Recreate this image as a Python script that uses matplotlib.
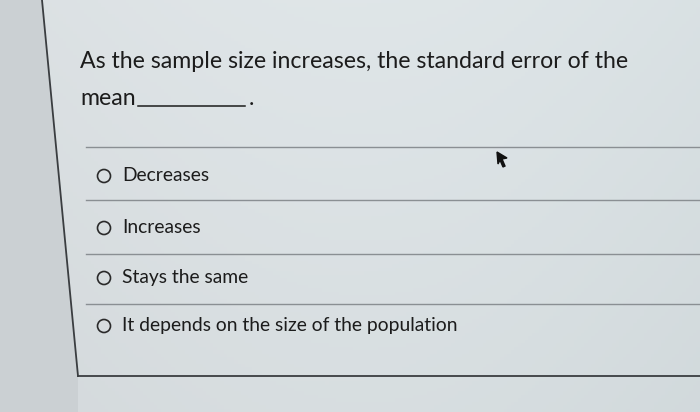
import matplotlib
matplotlib.use('Agg')
import matplotlib.pyplot as plt
import numpy as np
from matplotlib.patches import Polygon, Circle

plt.rcParams['font.family'] = ['Lato', 'DejaVu Sans']

question_lines = ['As the sample size increases, the standard error of the',
                  'mean']
options = ['Decreases', 'Increases', 'Stays the same',
           'It depends on the size of the population']
option_y = [176, 228, 278, 326]
divider_y = [147, 200, 254, 304]

fig = plt.figure(figsize=(7, 4.12), dpi=100)
ax = fig.add_axes([0, 0, 1, 1])
ax.set_xlim(0, 700)
ax.set_ylim(412, 0)
ax.axis('off')

# screen background with soft gradient
xx = np.linspace(0, 1, 200)
yy = np.linspace(0, 1, 120)
X, Y = np.meshgrid(xx, yy)
base = np.array([0.86, 0.88, 0.89])
shade = (0.02 * np.sin(X * 3.0) - 0.03 * Y)[..., None]
img = np.clip(base + shade + np.array([-0.01, 0.0, 0.0]) * X[..., None], 0, 1)
ax.imshow(img, extent=[0, 700, 412, 0], aspect='auto', zorder=0)

# darker strip left of panel edge
ax.add_patch(Polygon([[0, 0], [42, 0], [78, 376], [78, 412], [0, 412]],
                     closed=True, color='#cbd0d3', zorder=1, lw=0))
# panel edge and bottom
ax.plot([42, 78], [0, 376], color='#3a3d40', lw=1.3, zorder=3)
ax.plot([78, 700], [376, 376], color='#3a3d40', lw=1.3, zorder=3)

for y in divider_y:
    ax.plot([86, 700], [y, y], color='#8a8f93', lw=1.0, zorder=2)

ax.text(80, 61, question_lines[0], fontsize=16.7, color='#1c1c1c',
        va='center', ha='left', zorder=4)
ax.text(80, 98, question_lines[1], fontsize=16.7, color='#1c1c1c',
        va='center', ha='left', zorder=4)
# answer blank
ax.plot([138, 245], [106, 106], color='#1c1c1c', lw=1.1, zorder=4)
ax.text(249, 98, '.', fontsize=16.7, color='#1c1c1c',
        va='center', ha='left', zorder=4)

for y, label in zip(option_y, options):
    ax.add_patch(Circle((104, y), 6.5, fill=False, ec='#2a2a2a', lw=1.2, zorder=4))
    ax.text(122, y - 1, label, fontsize=13.9, color='#1c1c1c',
            va='center', ha='left', zorder=4)

# mouse cursor
cx, cy = 497, 152
ax.add_patch(Polygon([[cx, cy], [cx + 10, cy + 6], [cx + 5, cy + 7], [cx + 8, cy + 14],
                      [cx + 6, cy + 15], [cx + 3, cy + 8], [cx + 1, cy + 12]],
                     closed=True, color='#111111', zorder=5))

fig.savefig('out.png', dpi=100)
